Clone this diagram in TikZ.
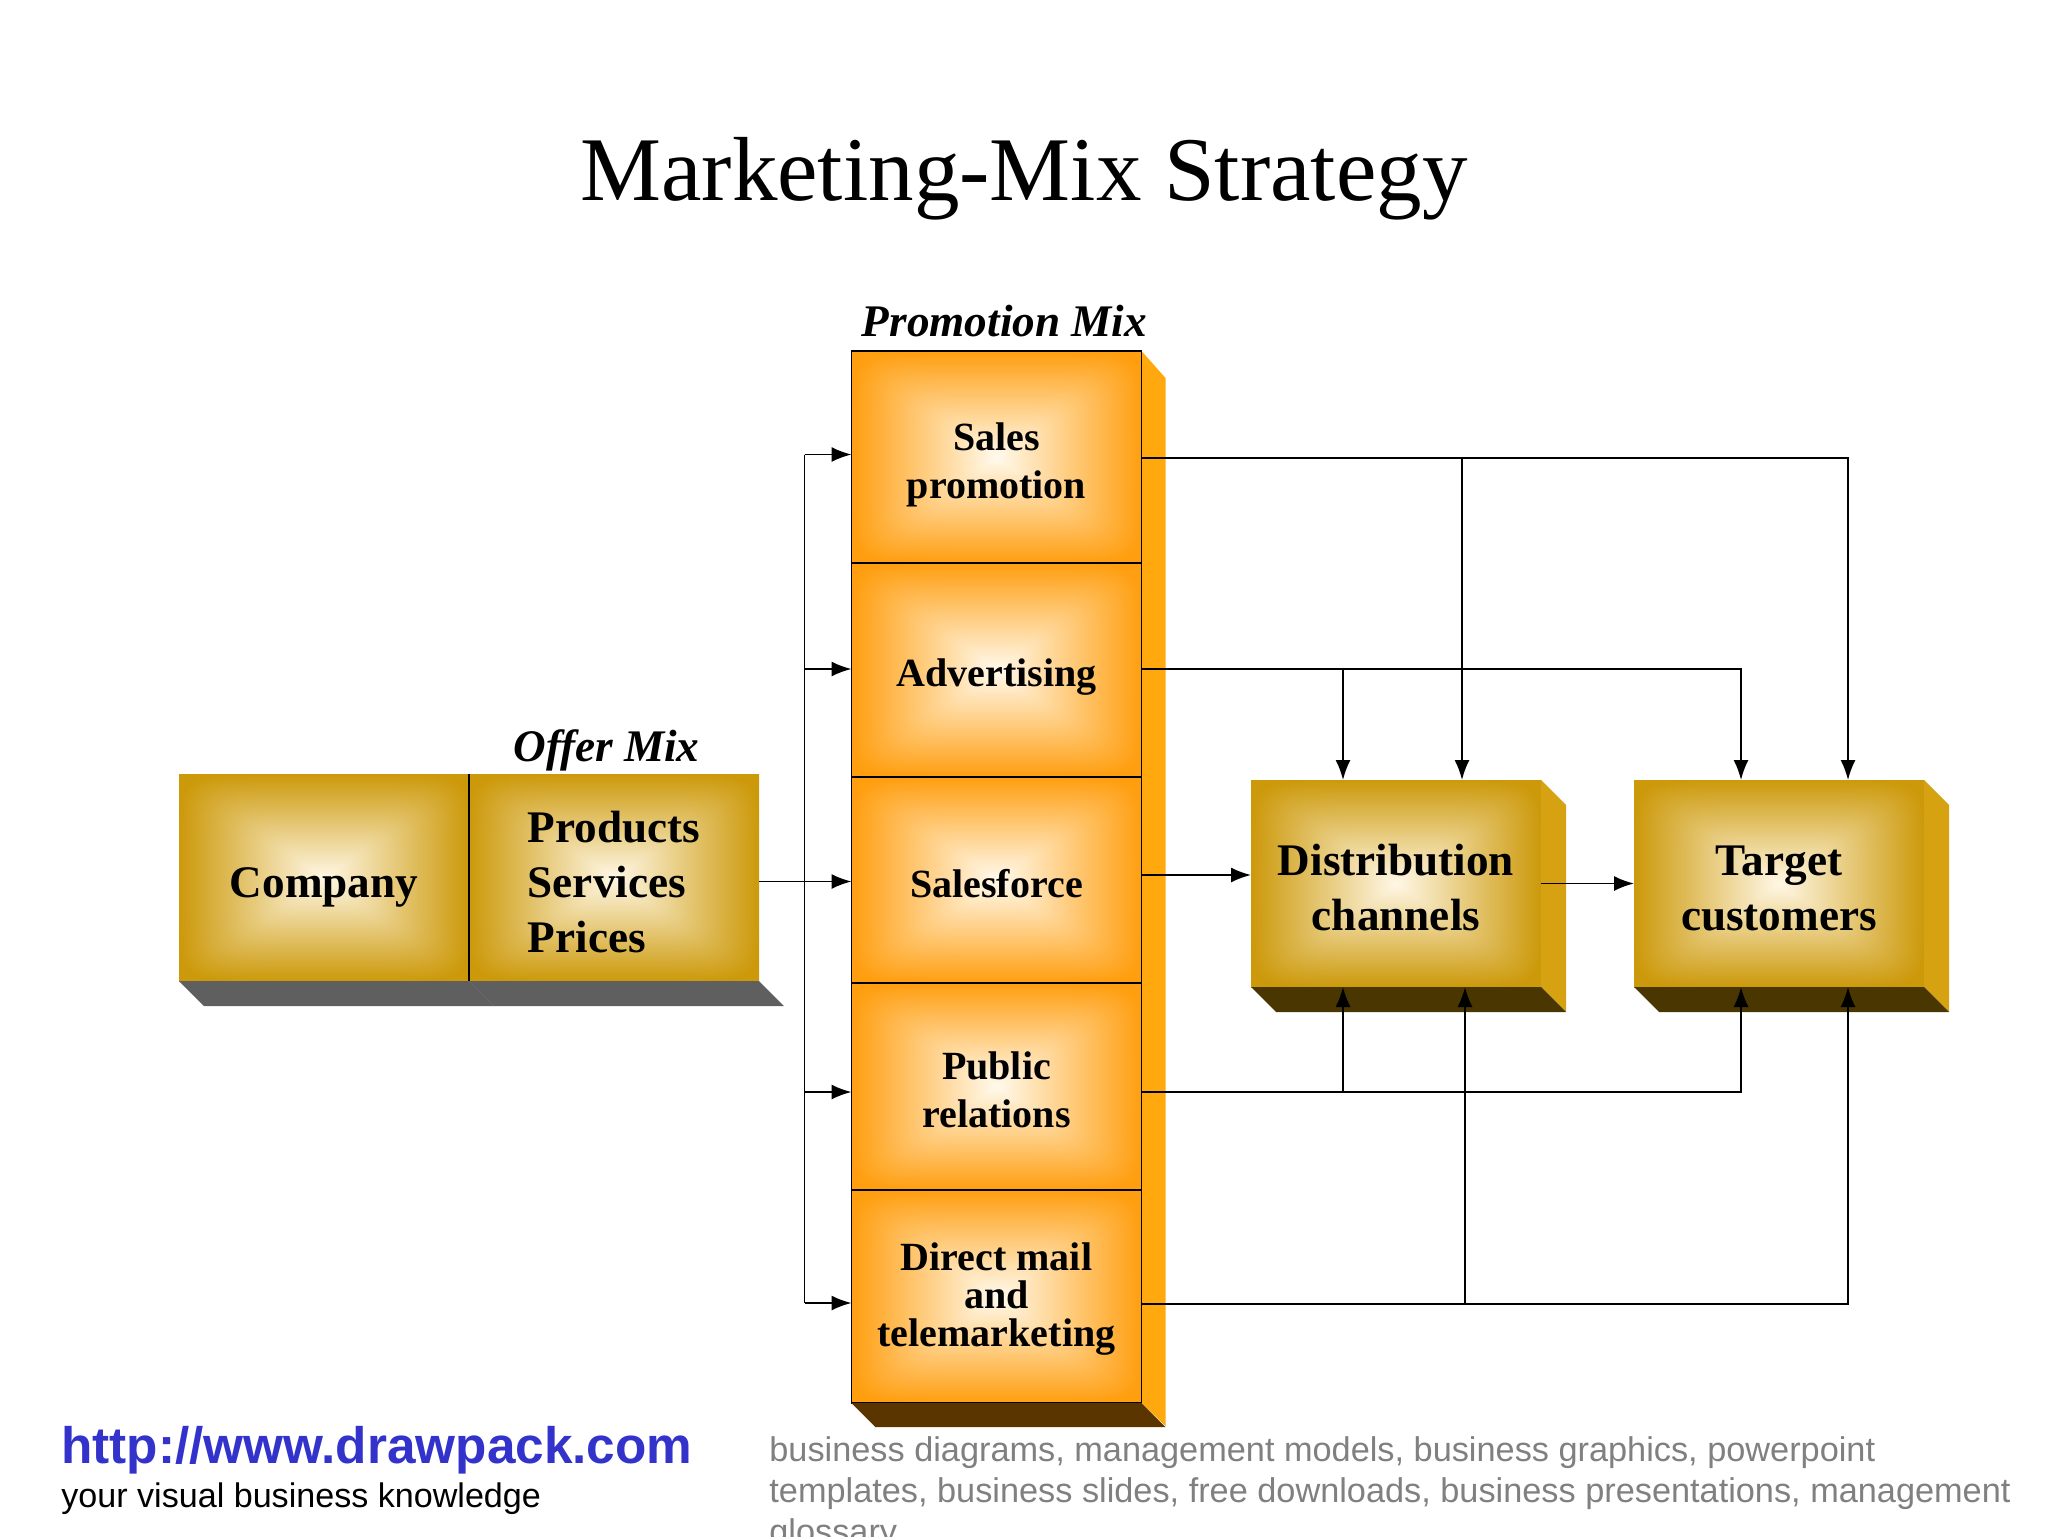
\documentclass[tikz,border=0pt]{standalone}
\usepackage{fontspec}
\usepackage{xcolor}
\usetikzlibrary{arrows.meta}
\setmainfont{Liberation Serif}
\newfontfamily\footfont{Liberation Sans}

\definecolor{goldside}{HTML}{D6A212}
\definecolor{goldbottom}{HTML}{4A3600}
\definecolor{orangeside}{HTML}{FFA90F}
\definecolor{orangebottom}{HTML}{5B3500}
\definecolor{shadowgray}{HTML}{5F5F5F}
\definecolor{linkblue}{HTML}{3333CC}
\definecolor{footgray}{HTML}{808080}

% Box shadings, light in the middle and dark at the edge
\pgfdeclarefunctionalshading{goldface}{\pgfpointorigin}{\pgfpoint{100bp}{100bp}}{}{
  50 sub 25 div dup mul dup mul dup mul exch 50 sub 25 div dup mul dup mul dup mul add sqrt sqrt sqrt
  dup 1 gt {pop 1} if
  dup dup -0.20 mul 1 add 3 1 roll -0.37 mul 0.97 add exch -0.86 mul 0.90 add
}
\pgfdeclarefunctionalshading{orangeface}{\pgfpointorigin}{\pgfpoint{100bp}{100bp}}{}{
  50 sub 25 div dup mul dup mul dup mul exch 50 sub 25 div dup mul dup mul dup mul add sqrt sqrt sqrt
  dup 1 gt {pop 1} if
  dup dup -0.00 mul 1 add 3 1 roll -0.36 mul 0.98 add exch -0.87 mul 0.93 add
}

% Tall first line, pushes a box text down
\newcommand{\topgap}[1]{\rule{0pt}{#1}}

\begin{document}
\begin{tikzpicture}[x=0.5pt, y=-0.5pt, >={Latex[length=10pt,width=7.5pt]}]
    % Define styles
    \tikzstyle{goldbox} = [rectangle, shading=goldface, inner sep=0pt, outer sep=0pt, align=center, minimum width=145pt, minimum height=103.5pt, font=\fontsize{22.6}{27.5}\selectfont\bfseries]
    \tikzstyle{promobox} = [rectangle, draw, line width=0.9pt, shading=orangeface, inner sep=0pt, outer sep=0pt, align=center, minimum width=145pt, font=\fontsize{20}{24}\selectfont\bfseries]
    \tikzstyle{mixlabel} = [font=\fontsize{22.6}{27}\selectfont\bfseries\itshape]
    \tikzstyle{conn} = [line width=0.9pt]
    \tikzstyle{footline} = [anchor=base west, inner sep=0pt, font=\fontsize{17.15}{20}\selectfont\footfont]

    \useasboundingbox (0,0) rectangle (2048,1536);

    % Title
    \node[font=\fontsize{45.5}{50}\selectfont] (title) at (1024,179) {Marketing-Mix Strategy};

    % Offer Mix
    \node[goldbox] (company) at (324,877.5) {\topgap{24.9pt}Company};
    \node[goldbox, align=left] (offer) at (614,877.5) {\topgap{19.9pt}Products\\Services\\Prices};
    \node[mixlabel] (offerlabel) at (606.5,750) {Offer Mix};
    \fill[shadowgray] (company.south west) -- ++(25,25) -- ++(290,0) -- (company.south east) -- cycle;
    \fill[shadowgray] (offer.south west) -- ++(25,25) -- ++(290,0) -- (offer.south east) -- cycle;
    \draw[line width=0.9pt] (company.north east) -- (company.south east);
    \draw[black!60, line width=0.3pt] (company.south east) -- ++(25,25);

    % Promotion Mix
    \node[promobox, minimum height=106pt] (sales) at (996.5,457) {\topgap{21.3pt}Sales\\promotion};
    \node[promobox, minimum height=107pt] (advertising) at (996.5,670) {\topgap{21.3pt}Advertising};
    \node[promobox, minimum height=103pt] (salesforce) at (996.5,880) {\topgap{17.5pt}Salesforce};
    \node[promobox, minimum height=103.5pt] (public) at (996.5,1086.5) {\topgap{17.5pt}Public\\relations};
    \node[promobox, minimum height=106.5pt, font=\fontsize{20}{19}\selectfont\bfseries] (direct) at (996.5,1296.5) {\topgap{16.1pt}Direct mail\\and\\telemarketing};
    \node[mixlabel] (promolabel) at (1004.5,321) {Promotion Mix};
    \fill[orangeside] (sales.north east) -- ++(24,27) -- ++(0,1048) -- (direct.south east) -- cycle;
    \fill[orangebottom] (direct.south west) -- ++(24,24) -- ++(290,0) -- (direct.south east) -- cycle;
    \draw[line width=0.9pt] (sales.north east) -- (direct.south east);

    % Distribution and customers
    \node[goldbox] (distribution) at (1396,883.5) {\topgap{19.7pt}Distribution\\channels};
    \node[goldbox] (target) at (1779,883.5) {\topgap{19.7pt}Target\\customers};
    \foreach \name in {distribution, target} {
        \fill[goldside] (\name.north east) -- ++(25,25) -- ++(0,207) -- (\name.south east) -- cycle;
        \fill[goldbottom] (\name.south west) -- ++(25,25) -- ++(290,0) -- (\name.south east) -- cycle;
    }

    % Feed into the promotion column
    \coordinate (bustop) at (804.5,454.5);
    \coordinate (busbottom) at (804.5,1303);
    \coordinate (busadv) at (804.5,669);
    \coordinate (busforce) at (804.5,881.5);
    \coordinate (buspub) at (804.5,1092);
    \draw[conn] (bustop) -- (busbottom);
    \draw[conn, ->] (offer.east |- busforce) -- (salesforce.west |- busforce);
    \draw[conn, ->] (bustop) -- (sales.west |- bustop);
    \draw[conn, ->] (busadv) -- (advertising.west |- busadv);
    \draw[conn, ->] (buspub) -- (public.west |- buspub);
    \draw[conn, ->] (busbottom) -- (direct.west |- busbottom);

    % Outputs of the promotion column
    \coordinate (salesturn) at (1848,458);
    \coordinate (salesdrop) at (1462,458);
    \coordinate (advturn) at (1741,669);
    \coordinate (advdrop) at (1343,669);
    \coordinate (forceout) at (1141.5,875);
    \coordinate (pubturn) at (1741,1092);
    \coordinate (pubrise) at (1343,1092);
    \coordinate (dirturn) at (1848,1304);
    \coordinate (dirrise) at (1465,1304);

    \draw[conn, ->] (sales.east |- salesturn) -- (salesturn) -- (salesturn |- target.north);
    \draw[conn, ->] (salesdrop) -- (salesdrop |- distribution.north);
    \draw[conn, ->] (advertising.east |- advturn) -- (advturn) -- (advturn |- target.north);
    \draw[conn, ->] (advdrop) -- (advdrop |- distribution.north);
    \draw[conn, ->] (forceout) -- (distribution.west |- forceout);
    \draw[conn, ->] (distribution.east) -- (target.west);
    \draw[conn, ->] (public.east |- pubturn) -- (pubturn) -- (pubturn |- target.south);
    \draw[conn, ->] (pubrise) -- (pubrise |- distribution.south);
    \draw[conn, ->] (direct.east |- dirturn) -- (dirturn) -- (dirturn |- target.south);
    \draw[conn, ->] (dirrise) -- (dirrise |- distribution.south);

    % Footer
    \node[footline, font=\fontsize{25.65}{30}\selectfont\footfont\bfseries, text=linkblue] (url) at (61,1463) {http://www.drawpack.com};
    \node[footline, font=\fontsize{17.05}{20}\selectfont\footfont] (slogan) at (61,1507) {your visual business knowledge};
    \node[footline, text=footgray] (tags1) at (769,1461) {business diagrams, management models, business graphics, powerpoint};
    \node[footline, text=footgray] (tags2) at (769,1502) {templates, business slides, free downloads, business presentations, management};
    \node[footline, text=footgray] (tags3) at (769,1543) {glossary};
\end{tikzpicture}
\end{document}
